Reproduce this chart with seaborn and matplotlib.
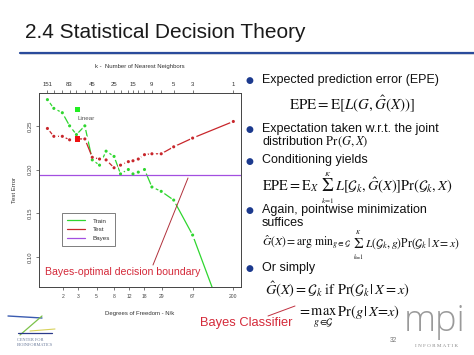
import numpy as np
import pandas as pd
import matplotlib
matplotlib.use("Agg")
import matplotlib.pyplot as plt
import seaborn as sns
from matplotlib.lines import Line2D
from matplotlib.ticker import FixedLocator, NullLocator

# ---------------- data ----------------
N_TRAIN = 200
k_values = [151, 127, 101, 83, 69, 55, 45, 37, 31, 25, 21, 17, 15, 13, 11, 9, 7, 5, 3, 1]
train_error = [0.280, 0.270, 0.265, 0.250, 0.240, 0.250, 0.211, 0.205, 0.221, 0.215,
               0.195, 0.200, 0.195, 0.197, 0.200, 0.180, 0.175, 0.165, 0.125, 0.000]
test_error = [0.247, 0.238, 0.238, 0.234, 0.235, 0.235, 0.214, 0.212, 0.211, 0.202,
              0.205, 0.209, 0.210, 0.212, 0.217, 0.218, 0.218, 0.226, 0.236, 0.255]
k_labels = [151, 83, 45, 25, 15, 9, 5, 3, 1]
dof_ticks = [2, 3, 5, 8, 12, 18, 29, 67, 200]
error_ticks = [0.10, 0.15, 0.20, 0.25]
linear_dof = 3
linear_train = 0.269
linear_test = 0.235
bayes_error = 0.194
series_names = ["Train", "Test", "Bayes"]

# ---------------- style ----------------
sns.set_theme(style="ticks")
plt.rcParams["font.family"] = ["Liberation Sans", "DejaVu Sans"]
plt.rcParams["mathtext.fontset"] = "stix"

GREEN = "#2fd62f"
RED = "#c8262b"
PURPLE = "#a34fe0"
BLUE = "#1c3a8e"
ANNOT = "#d42a3a"

W, H = 474, 355
def fx(x):
    return x / W
def fy(y):
    return 1 - y / H

fig = plt.figure(figsize=(W / 100, H / 100), dpi=100)
fig.patch.set_facecolor("white")

# ---------------- chart ----------------
ax = fig.add_axes([fx(39), fy(287), (241 - 39) / W, (287 - 93) / H])
ax.set_xscale("log")

dof = [N_TRAIN / k for k in k_values]
curves = pd.DataFrame({"dof": dof, "Train": train_error, "Test": test_error})
long = curves.melt(id_vars="dof", var_name="set", value_name="error")
pal = {"Train": GREEN, "Test": RED}

sns.lineplot(data=long, x="dof", y="error", hue="set", palette=pal, estimator=None,
             sort=False, lw=0.9, legend=False, ax=ax, zorder=1)
sns.scatterplot(data=long, x="dof", y="error", color="white", s=26, linewidth=0,
                legend=False, ax=ax, zorder=2)
ax.axhline(bayes_error, color=PURPLE, lw=0.9, zorder=2.5)
sns.scatterplot(data=long, x="dof", y="error", hue="set", palette=pal, s=5,
                linewidth=0, legend=False, ax=ax, zorder=3)
lin = pd.DataFrame({"dof": [linear_dof, linear_dof],
                    "error": [linear_train, linear_test],
                    "set": ["Train", "Test"]})
sns.scatterplot(data=lin, x="dof", y="error", hue="set",
                palette={"Train": "#22ee22", "Test": "#ee1111"},
                marker="s", s=14, linewidth=0, legend=False, ax=ax, zorder=4)
ax.annotate("Linear", xy=(linear_dof, linear_train), xytext=(6, -6.5),
            textcoords="offset points", ha="center", va="center",
            fontsize=4.5, color="#555555")

ax.set_xlim(1.055, 246)
ax.set_ylim(0.0655, 0.2876)
ax.set_xlabel("")
ax.set_ylabel("")

ax.xaxis.set_major_locator(FixedLocator(dof_ticks))
ax.xaxis.set_minor_locator(NullLocator())
ax.set_xticklabels([str(v) for v in dof_ticks])
ax.set_yticks(error_ticks, labels=[f"{v:.2f}" for v in error_ticks])
ax.tick_params(axis="both", direction="out", length=2.2, width=0.5, color="#444444",
               labelsize=3.6, labelcolor="#444444", pad=2.5)
ax.tick_params(axis="y", labelrotation=90, labelsize=4.2)
for lbl in ax.get_yticklabels():
    lbl.set_va("center")

sec = ax.secondary_xaxis("top")
sec.set_xticks(dof, labels=[str(k) if k in k_labels else "" for k in k_values])
sec.xaxis.set_minor_locator(NullLocator())
sec.tick_params(direction="out", length=2.2, width=0.5, color="#444444",
                labelsize=4.3, labelcolor="#333333", pad=2)
sec.spines["top"].set_visible(False)

for s in ax.spines.values():
    s.set_color("#444444")
    s.set_linewidth(0.7)

handles = [Line2D([], [], color=GREEN, lw=0.9),
           Line2D([], [], color=RED, lw=0.9),
           Line2D([], [], color=PURPLE, lw=0.9)]
leg = ax.legend(handles, series_names, loc="upper left", bbox_to_anchor=(0.112, 0.38),
                fontsize=4.5, frameon=True, fancybox=False, edgecolor="#444444",
                handlelength=3.0, handletextpad=1.2, labelspacing=0.55,
                borderpad=0.8, borderaxespad=0)
leg.get_frame().set_linewidth(0.6)
for t in leg.get_texts():
    t.set_color("#333333")

fig.text(fx(140), fy(66.5), "k -  Number of Nearest Neighbors", ha="center", va="center",
         fontsize=4.3, color="#333333")
fig.text(fx(140), fy(313), "Degrees of Freedom - N/k", ha="center", va="center",
         fontsize=4.3, color="#333333")
fig.text(fx(14), fy(190), "Test Error", ha="center", va="center", rotation=90,
         fontsize=4.3, color="#333333")

# annotation on chart
fig.text(fx(45), fy(272), "Bayes-optimal decision boundary", ha="left", va="center",
         fontsize=7.6, color=ANNOT)
fig.add_artist(Line2D([fx(153), fx(188)], [fy(265), fy(178)], color="#b0303a", lw=0.7))

# ---------------- title ----------------
fig.text(fx(25), fy(33), "2.4 Statistical Decision Theory", ha="left", va="center",
         fontsize=15.0, color="#1a1a1a")
fig.add_artist(Line2D([fx(20), fx(474)], [fy(52.5), fy(52.5)], color="#2a4b9b", lw=1.6))
fig.add_artist(Line2D([fx(20), fx(474)], [fy(54.3), fy(54.3)], color="#c8ccd6", lw=0.6))

# ---------------- bullets ----------------
TXT = 9.0
INK = "#111111"
renderer = fig.canvas.get_renderer()

def bullet(y):
    fig.text(fx(249), fy(y), "\u25cf", ha="center", va="center", fontsize=6.5,
             color=BLUE, family="DejaVu Sans")

def math_row(x_left, y_base, parts, size, gap=1.0):
    """Lay out formula pieces left to right; tuples are sums with small limits."""
    x = x_left
    size_px = size * 100 / 72
    for part in parts:
        if isinstance(part, tuple):
            upper, lower = part
            t = fig.text(fx(x + 0.5), fy(y_base + size_px * 0.1), r"$\Sigma$", ha="left",
                         va="baseline", fontsize=size * 1.3, color=INK)
            bb = t.get_window_extent(renderer)
            cx = (bb.x0 + bb.x1) / 2
            top_px = H - bb.y1
            bot_px = H - bb.y0
            fig.text(cx / W, fy(top_px - 0.8), upper, ha="center", va="bottom",
                     fontsize=size * 0.5, color=INK)
            fig.text(cx / W, fy(bot_px + 0.8), lower, ha="center", va="top",
                     fontsize=size * 0.5, color=INK)
            x = bb.x1 + gap
        else:
            t = fig.text(fx(x), fy(y_base), part, ha="left", va="baseline",
                         fontsize=size, color=INK)
            bb = t.get_window_extent(renderer)
            x = bb.x1 + gap

bullet(81)
fig.text(fx(262), fy(80), "Expected prediction error (EPE)", ha="left", va="center",
         fontsize=TXT, color=INK)
fig.text(fx(352), fy(104), r"$\mathrm{EPE}=\mathrm{E}[L(G,\hat{G}(X))]$", ha="center",
         va="center", fontsize=10.8, color=INK)

bullet(130)
fig.text(fx(262), fy(129), "Expectation taken w.r.t. the joint", ha="left", va="center",
         fontsize=TXT, color=INK)
fig.text(fx(262), fy(142), r"distribution $\mathrm{Pr}(G,X)$", ha="left", va="center",
         fontsize=TXT, color=INK)

bullet(161)
fig.text(fx(262), fy(160), "Conditioning yields", ha="left", va="center",
         fontsize=TXT, color=INK)
math_row(262, 190,
         [r"$\mathrm{EPE}=\mathrm{E}_X$",
          (r"$K$", r"$k\!=\!1$"),
          r"$L[\mathcal{G}_k,\hat{G}(X)]\mathrm{Pr}(\mathcal{G}_k,X)$"],
         10.4)

bullet(211)
fig.text(fx(262), fy(210), "Again, pointwise minimization", ha="left", va="center",
         fontsize=TXT, color=INK)
fig.text(fx(262), fy(223), "suffices", ha="left", va="center", fontsize=TXT, color=INK)
math_row(262, 247,
         [r"$\hat{G}(X)=\mathrm{arg\ min}_{g\in\mathcal{G}}$",
          (r"$K$", r"$k\!=\!1$"),
          r"$L(\mathcal{G}_k,g)\mathrm{Pr}(\mathcal{G}_k\,|\,X=x)$"],
         8.4)

bullet(269)
fig.text(fx(262), fy(268), "Or simply", ha="left", va="center", fontsize=TXT, color=INK)
fig.text(fx(265), fy(294),
         r"$\hat{G}(X)=\mathcal{G}_k\ \mathrm{if}\ \mathrm{Pr}(\mathcal{G}_k\,|\,X=x)$",
         ha="left", va="baseline", fontsize=10.4, color=INK)
fig.text(fx(297), fy(316),
         r"$=\max_{g\in\mathcal{G}}\,\mathrm{Pr}(g\,|\,X=x)$",
         ha="left", va="baseline", fontsize=10.4, color=INK)

fig.text(fx(200), fy(323), "Bayes Classifier", ha="left", va="center", fontsize=9.3,
         color=ANNOT)
fig.add_artist(Line2D([fx(268), fx(295)], [fy(316), fy(306)], color="#c03040", lw=0.7))

# ---------------- footer ----------------
fig.text(fx(393), fy(341), "32", ha="center", va="center", fontsize=4.8, color="#777777")
fig.text(fx(435), fy(331), "mpi", ha="center", va="baseline", fontsize=26, color="#9a9a9a",
         family="Open Sans", fontweight="light")
fig.text(fx(437), fy(346), "I N F O R M A T I K", ha="center", va="center", fontsize=3.7,
         color="#888888", family="Liberation Serif")

fig.add_artist(Line2D([fx(8), fx(42)], [fy(316), fy(318)], color="#3a5bb0", lw=1.0))
fig.add_artist(Line2D([fx(20), fx(42)], [fy(335), fy(316)], color="#7cc24a", lw=0.9))
fig.add_artist(Line2D([fx(18), fx(52)], [fy(333), fy(333)], color="#2a3a8a", lw=0.9))
fig.add_artist(Line2D([fx(30), fx(55)], [fy(331), fy(329)], color="#d8d25a", lw=0.8))
fig.text(fx(17), fy(340), "CENTER FOR", ha="left", va="center", fontsize=3.2,
         color="#6a7a9a", family="Liberation Serif")
fig.text(fx(17), fy(345.5), "BIOINFORMATICS", ha="left", va="center", fontsize=3.2,
         color="#6a7a9a", family="Liberation Serif")

fig.savefig("out.png", dpi=100, facecolor="white")
